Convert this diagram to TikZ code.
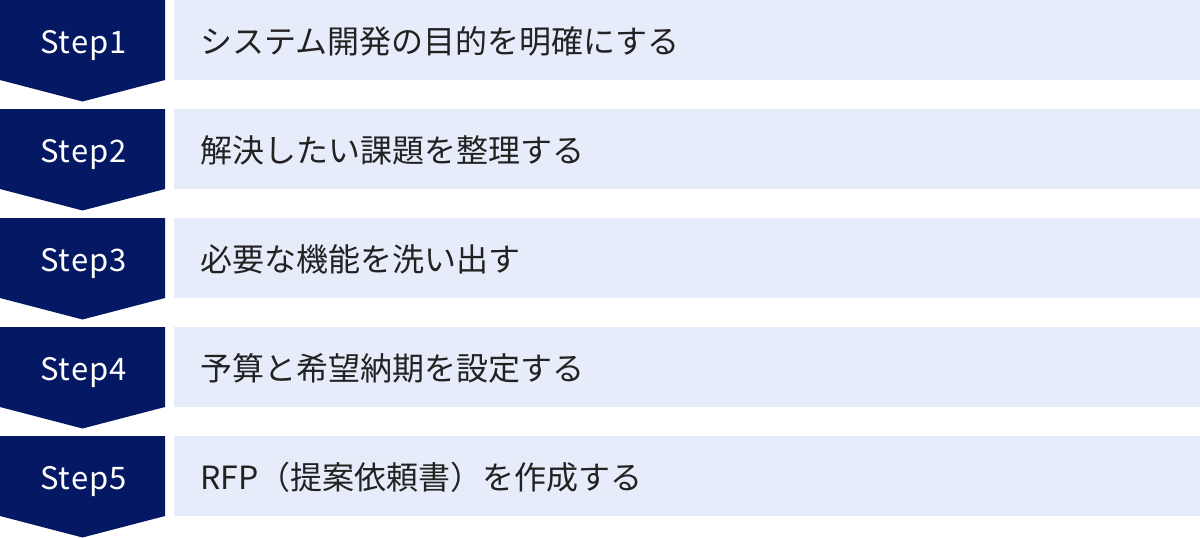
\documentclass[tikz,border=0pt]{standalone}
\usepackage{fontspec}
\setmainfont{Noto Sans CJK JP}
\newfontfamily\stepfont[LetterSpace=3]{Noto Sans CJK JP}
\definecolor{navy}{RGB}{5,24,100}
\definecolor{lightbg}{RGB}{230,236,249}
\definecolor{txt}{RGB}{34,34,34}
\begin{document}
\begin{tikzpicture}[x=1pt,y=-1pt,
  chev/.style={fill=navy,draw=none},
  barbox/.style={fill=lightbg,draw=none},
  steplabel/.style={text=white,font=\stepfont\fontsize{31}{36}\selectfont,anchor=base,inner sep=0pt},
  desc/.style={text=txt,font=\fontsize{32}{38}\selectfont,anchor=base west,inner sep=0pt}]
\useasboundingbox (0,0) rectangle (1200,538);
\foreach \i/\t in {1/システム開発の目的を明確にする,2/解決したい課題を整理する,3/必要な機能を洗い出す,4/予算と希望納期を設定する,5/RFP（提案依頼書）を作成する}{
  \pgfmathsetmacro{\top}{(\i-1)*109}
  \fill[chev] (0,\top) -- (165,\top) -- (165,\top+80) -- (82.5,\top+101.5) -- (0,\top+80) -- cycle;
  \fill[barbox] (174,\top) rectangle (1200,\top+80);
  \node[steplabel] (s\i) at (83.5,\top+53) {Step\i};
  \node[desc] (d\i) at (200,\top+53) {\t};
}
\end{tikzpicture}
\end{document}
